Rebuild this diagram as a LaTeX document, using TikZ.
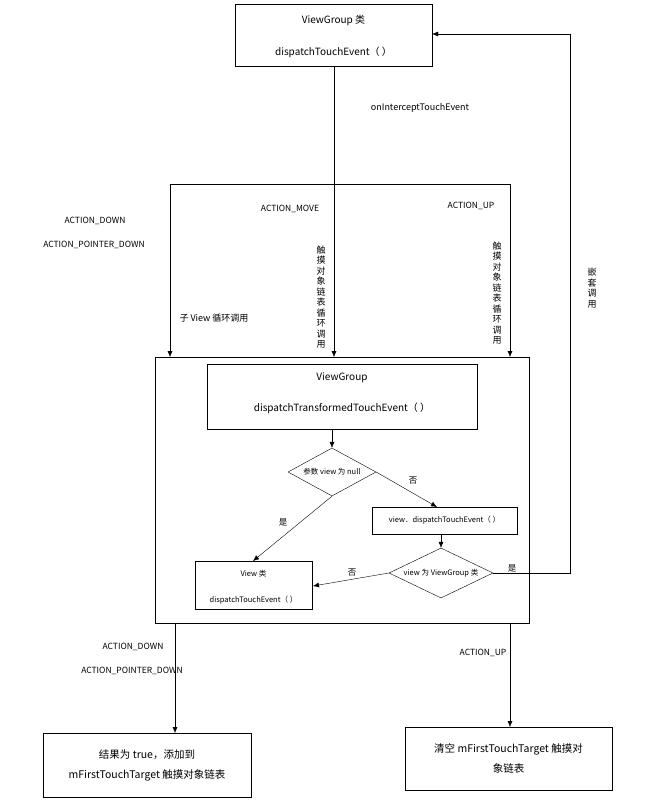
\documentclass[tikz,border=0pt]{standalone}
\usepackage{fontspec}
\setmainfont{Noto Sans CJK SC}
\usetikzlibrary{shapes.geometric,arrows.meta}
\begin{document}
\begin{tikzpicture}[x=1pt,y=-1pt,
  box/.style={draw,thin,inner sep=0pt},
  lbl/.style={font=\fontsize{8.5}{9}\selectfont,inner sep=1pt},
  vt/.style={font=\fontsize{9}{10.5}\selectfont,align=center,inner sep=0pt},
  arr/.style={-{Latex[length=6pt,width=5pt]},thin},
  ln/.style={thin}]
\useasboundingbox (0,0) rectangle (668,811);
% top box
\node[box,minimum width=197pt,minimum height=62pt] (top) at (333.5,35) {};
\node[lbl,font=\fontsize{10}{11}\selectfont] (t1) at (333.5,20) {ViewGroup 类};
\node[lbl,font=\fontsize{10}{11}\selectfont] (t2) at (333.5,52) {dispatchTouchEvent（ ）};
\coordinate (split) at (334,184);
\coordinate (l1) at (170,184);
\coordinate (l3) at (510,184);
\draw[ln] (top.south -| split) -- (split);
\draw[ln] (l1) -- (l3);
\node[lbl,font=\fontsize{9}{10}\selectfont] (oi) at (420,108) {onInterceptTouchEvent};
% big box
\node[box,minimum width=374pt,minimum height=266pt] (big) at (342,490) {};
\coordinate (b1) at (170,357);
\coordinate (b2) at (334,357);
\coordinate (b3) at (510,357);
\draw[arr] (l1) -- (b1);
\draw[arr] (split) -- (b2);
\draw[arr] (l3) -- (b3);
\node[lbl] (ad) at (95,221) {ACTION\_DOWN};
\node[lbl] (apd) at (94,245) {ACTION\_POINTER\_DOWN};
\node[lbl] (am) at (290,209) {ACTION\_MOVE};
\node[lbl] (au) at (471,206) {ACTION\_UP};
\node[lbl,font=\fontsize{9}{10}\selectfont] (zv) at (214,318) {子 View 循环调用};
\node[vt] (v1) at (321,297) {触\\摸\\对\\象\\链\\表\\循\\环\\调\\用};
\node[vt] (v2) at (497,293) {触\\摸\\对\\象\\链\\表\\循\\环\\调\\用};
\node[vt] (v3) at (592,288) {嵌\\套\\调\\用};
% inner
\node[box,minimum width=270pt,minimum height=65pt] (in) at (342,396.5) {};
\node[lbl,font=\fontsize{10}{11}\selectfont] (i1) at (342,378) {ViewGroup};
\node[lbl,font=\fontsize{10}{11}\selectfont] (i2) at (342,408) {dispatchTransformedTouchEvent（ ）};
\node[draw,thin,diamond,aspect=1.83,minimum width=88pt,minimum height=48pt,inner sep=0pt] (d1) at (332,472) {};
\node[lbl,font=\fontsize{7.5}{8}\selectfont] at (d1) {参数 view 为 null};
\draw[arr] (in.south -| d1) -- (d1.north);
\node[box,minimum width=145pt,minimum height=27pt,font=\fontsize{7.5}{8}\selectfont] (b2x) at (444.5,520.5) {view．dispatchTouchEvent（ ）};
\draw[arr] (d1.east) -- (437,507);
\node[lbl] at (413,481) {否};
\node[box,minimum width=117pt,minimum height=48pt] (b3x) at (253.5,585) {};
\node[lbl,font=\fontsize{7.5}{8}\selectfont] at (253.5,574) {View 类};
\node[lbl,font=\fontsize{7.5}{8}\selectfont] at (253.5,600) {dispatchTouchEvent（ ）};
\draw[arr] (d1.south) -- (253,561);
\node[lbl] at (283,522) {是};
\node[draw,thin,diamond,aspect=2.08,minimum width=104pt,minimum height=50pt,inner sep=0pt] (d2) at (441,573) {};
\node[lbl,font=\fontsize{7.5}{8}\selectfont] at (d2) {view 为 ViewGroup 类};
\draw[arr] (b2x.south -| d2) -- (d2.north);
\draw[arr] (d2.west) -- (313,586);
\node[lbl] at (352,573) {否};
\coordinate (c1) at (570,573);
\coordinate (c2) at (570,34);
\draw[ln] (d2.east) -- (c1) -- (c2);
\draw[arr] (c2) -- (top.east |- c2);
\node[lbl] at (512,568) {是};
% bottom boxes
\node[box,minimum width=208pt,minimum height=64pt,align=center,font=\fontsize{10.5}{20}\selectfont] (r1) at (147,765) {结果为 true，添加到\\mFirstTouchTarget 触摸对象链表};
\node[box,minimum width=207pt,minimum height=63pt,align=center,font=\fontsize{10.5}{20}\selectfont] (r2) at (508.5,758.5) {清空 mFirstTouchTarget 触摸对\\象链表};
\draw[arr] (175,623) -- (175,733);
\draw[arr] (510,623) -- (510,727);
\node[lbl] at (133,647) {ACTION\_DOWN};
\node[lbl] at (132,671) {ACTION\_POINTER\_DOWN};
\node[lbl] at (483,653) {ACTION\_UP};
\end{tikzpicture}
\end{document}
